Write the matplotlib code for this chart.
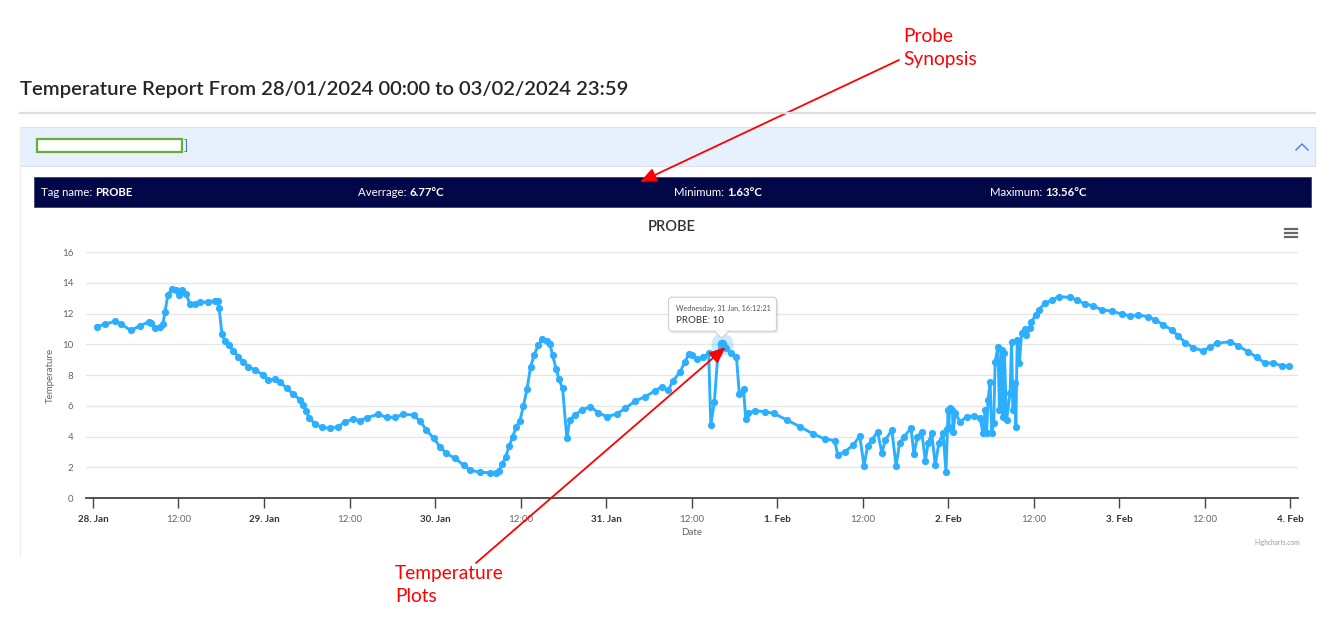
import datetime as dt
import matplotlib
matplotlib.use("Agg")
import matplotlib.pyplot as plt
import matplotlib.dates as mdates
from matplotlib.patches import Rectangle, FancyBboxPatch, Polygon, FancyArrowPatch
from matplotlib.lines import Line2D
from matplotlib.text import Annotation
from matplotlib.transforms import Affine2D

# ---------------- data ----------------
report_title = "Temperature Report From 28/01/2024 00:00 to 03/02/2024 23:59"
chart_title = "PROBE"
series_name = "PROBE"
synopsis_labels = ["Tag name: ", "Averrage: ", "Minimum: ", "Maximum: "]
synopsis_values = ["PROBE", "6.77°C", "1.63°C", "13.56°C"]
start_time = dt.datetime(2024, 1, 28, 0, 0)

# hours after 28 Jan 00:00 and probe temperature (°C)
hours = [0.5, 1.7, 3.1, 4.0, 5.3, 6.6, 7.8, 8.2, 8.7, 9.4, 9.8, 10.1, 10.5, 11.1, 11.6,
         12.1, 12.5, 13.1, 13.6, 14.3, 15.0, 16.2, 17.1, 17.5, 17.7, 18.1, 18.5, 19.1,
         19.7, 20.4, 21.1, 21.8, 22.7, 23.9, 24.5, 25.5, 26.2, 27.2, 28.1, 29.1, 29.5,
         29.9, 30.3, 31.2, 32.1, 33.3, 34.4, 35.4, 36.5, 37.5, 38.4, 40.0, 41.2, 42.4,
         43.5, 45.0, 45.9, 46.8, 47.8, 48.7, 49.6, 50.8, 52.0, 52.9, 54.3, 55.7, 56.6,
         57.0, 57.4, 57.9, 58.4, 58.9, 59.4, 59.9, 60.4, 60.9, 61.4, 61.9, 62.5, 63.0,
         63.7, 64.1, 64.5, 65.0, 65.4, 65.9, 66.5, 66.9, 67.6, 68.6, 69.8, 70.9, 72.1,
         73.5, 74.7, 76.1, 77.5, 78.9, 79.8, 80.7, 81.4, 82.4, 83.1, 83.6, 84.0, 84.7,
         85.6, 86.4, 86.7, 87.2, 87.7, 88.2, 88.9, 89.6, 90.3, 90.7, 91.3, 91.6, 91.9,
         92.9, 94.3, 95.5, 97.4, 99.2, 101.1, 102.7, 104.1, 104.5, 105.5, 106.7, 107.6,
         108.2, 108.7, 109.3, 110.1, 110.7, 111.2, 112.1, 112.7, 113.2, 113.8, 114.8,
         115.2, 115.7, 116.3, 116.8, 117.2, 117.7, 118.2, 118.7, 119.3, 119.7, 119.9,
         120.0, 120.1, 120.2, 120.6, 120.7, 121.0, 121.7, 122.6, 123.6, 124.5, 124.9,
         125.2, 125.4, 125.6, 125.9, 126.1, 126.4, 126.6, 127.0, 127.2, 127.5, 127.7,
         127.9, 128.2, 128.7, 128.9, 129.1, 129.4, 129.5, 129.7, 130.0, 130.3, 130.8,
         131.0, 131.5, 131.7, 132.3, 132.7, 133.6, 134.6, 135.5, 137.1, 138.1, 139.2,
         140.4, 141.6, 143.0, 144.4, 145.5, 146.7, 148.1, 149.1, 150.2, 151.4, 152.3,
         153.3, 154.4, 155.8, 156.8, 157.7, 159.6, 160.7, 162.1, 163.3, 164.5, 165.6,
         166.8, 167.9]
temps = [11.14, 11.3, 11.5, 11.3, 10.9, 11.2, 11.45, 11.4, 11.08, 11.1, 11.3, 12.08, 13.2,
         13.6, 13.56, 13.2, 13.56, 13.25, 12.6, 12.65, 12.73, 12.75, 12.84, 12.84, 12.34,
         10.67, 10.23, 9.95, 9.58, 9.19, 8.87, 8.54, 8.33, 8.0, 7.67, 7.72, 7.57, 7.13,
         6.76, 6.37, 6.05, 5.68, 5.22, 4.81, 4.6, 4.53, 4.64, 4.96, 5.12, 5.03, 5.22,
         5.44, 5.25, 5.25, 5.44, 5.4, 5.0, 4.42, 3.88, 3.34, 2.9, 2.58, 2.15, 1.82, 1.67,
         1.65, 1.65, 1.78, 2.19, 2.64, 3.38, 3.99, 4.64, 5.0, 5.98, 7.07, 8.5, 9.3, 9.95,
         10.32, 10.23, 10.02, 9.3, 8.37, 7.72, 7.13, 3.88, 5.07, 5.4, 5.72, 5.94, 5.55,
         5.29, 5.46, 5.83, 6.31, 6.59, 6.98, 7.24, 7.02, 7.61, 8.22, 8.87, 9.37, 9.3,
         9.02, 9.15, 9.41, 4.75, 6.26, 9.41, 10.0, 9.73, 9.41, 9.15, 6.76, 7.07, 5.12,
         5.51, 5.68, 5.61, 5.51, 5.07, 4.64, 4.16, 3.84, 3.73, 2.80, 3.01, 3.45, 4.03,
         2.1, 3.38, 3.77, 4.31, 2.95, 3.77, 4.42, 2.1, 3.6, 3.99, 4.53, 2.86, 3.99, 4.31,
         2.43, 3.56, 4.21, 2.15, 3.56, 4.21, 1.7, 4.5, 5.72, 4.6, 5.83, 5.72, 4.31, 5.5,
         4.96, 5.29, 5.33, 5.18, 4.2, 5.72, 4.2, 6.37, 7.57, 4.2, 4.86, 8.87, 9.84, 5.72,
         9.63, 5.29, 9.41, 5.07, 6.81, 10.17, 5.72, 7.46, 4.64, 10.28, 8.76, 10.71, 10.97,
         10.6, 11.04, 11.47, 11.9, 12.23, 12.66, 12.88, 13.09, 13.05, 12.88, 12.62, 12.49,
         12.23, 12.16, 11.95, 11.86, 11.9, 11.79, 11.58, 11.25, 10.93, 10.54, 10.1, 9.78,
         9.56, 9.84, 10.06, 10.17, 9.89, 9.52, 9.15, 8.76, 8.8, 8.59, 8.59]

y_ticks = [0, 2, 4, 6, 8, 10, 12, 14, 16]
x_tick_hours = [0, 12, 24, 36, 48, 60, 72, 84, 96, 108, 120, 132, 144, 156, 168]
x_tick_labels = ["28. Jan", "12:00", "29. Jan", "12:00", "30. Jan", "12:00", "31. Jan",
                 "12:00", "1. Feb", "12:00", "2. Feb", "12:00", "3. Feb", "12:00", "4. Feb"]
hover_hour = 88.2
hover_value = 10
hover_header = "Wednesday, 31 Jan, 16:12:21"

# ---------------- style ----------------
W, H = 1330, 623
FONT = ["Lato", "DejaVu Sans"]
plt.rcParams["font.family"] = FONT
LINE = "#2caffe"
NAVY = "#020747"

fig = plt.figure(figsize=(W / 100, H / 100), dpi=100)
fig.patch.set_facecolor("white")
T = Affine2D().scale(1 / W, -1 / H).translate(0, 1) + fig.transFigure  # top-down pixels

# page header
fig.text(20, 89, report_title, transform=T, fontsize=14.6, color="#262626",
         va="center", ha="left", fontweight="semibold")
fig.add_artist(Line2D([20, 1315], [113, 113], transform=T, color="#dedede", lw=1.6))

# card with collapsible header
fig.add_artist(Line2D([20, 20], [127, 556], transform=T, color="#eeeeee", lw=1))
fig.add_artist(Rectangle((20, 127), 1295, 39, transform=T, facecolor="#e7f0fd",
                         edgecolor="#d9e2ee", lw=0.8))
fig.add_artist(Rectangle((37, 139), 145, 13, transform=T, facecolor="white",
                         edgecolor="#6aab3a", lw=1.6))
fig.text(184, 146, "]", transform=T, fontsize=10, color="#3f76d6", va="center")
fig.add_artist(Line2D([1296, 1302, 1308], [150, 144, 150], transform=T,
                      color="#4b7fd8", lw=1))

# synopsis bar
fig.add_artist(Rectangle((34, 177), 1277, 30, transform=T, facecolor=NAVY,
                         edgecolor="#3c4170", lw=0.6))
for x0, lab, val in zip([41, 358, 674, 990], synopsis_labels, synopsis_values):
    t1 = fig.text(x0, 193, lab, transform=T, fontsize=8.2, color="white",
                  va="center", ha="left")
    a = Annotation(val, xy=(1, 0), xycoords=t1, va="bottom", ha="left",
                   fontsize=8.2, color="white", fontweight="bold")
    fig.add_artist(a)

# chart title and menu icon
fig.text(672, 227, chart_title, transform=T, fontsize=10.5, color="#333333",
         ha="center", va="center", fontweight="semibold")
for yy in [229, 233, 237]:
    fig.add_artist(Line2D([1285, 1297], [yy, yy], transform=T, color="#666666", lw=1.6))

# ---------------- plot ----------------
ax = fig.add_axes([86 / W, 1 - 498 / H, (1298 - 86) / W, (498 - 252) / H])
times = [start_time + dt.timedelta(hours=h) for h in hours]
ax.plot(times, temps, color=LINE, lw=2.1, marker="o", markersize=5.2,
        markeredgewidth=0, zorder=3, clip_on=False)

ax.set_ylim(0, 16)
x_left = start_time - dt.timedelta(hours=0.98)
x_right = start_time + dt.timedelta(hours=169.1)
ax.set_xlim(x_left, x_right)
ax.set_yticks(y_ticks)
ax.set_yticklabels([str(v) for v in y_ticks])
ax.set_xticks([start_time + dt.timedelta(hours=h) for h in x_tick_hours])
ax.set_xticklabels(x_tick_labels)
for lab in ax.get_xticklabels():
    if lab.get_text() == "12:00":
        lab.set_color("#666666")
    else:
        lab.set_color("#333333")
        lab.set_fontweight("bold")
ax.tick_params(axis="x", length=7, width=1, color="#444444", labelsize=7, pad=5)
ax.tick_params(axis="y", length=0, labelsize=7, labelcolor="#666666", pad=9)
ax.grid(axis="y", color="#e6e6e6", lw=1)
ax.set_axisbelow(True)
for s in ["top", "right", "left"]:
    ax.spines[s].set_visible(False)
ax.spines["bottom"].set_color("#444444")
ax.spines["bottom"].set_linewidth(1.3)
ax.set_ylabel("Temperature", fontsize=7, color="#666666", labelpad=5)
ax.set_xlabel("Date", fontsize=7, color="#666666", labelpad=3)

# hovered point + tooltip
hover_time = start_time + dt.timedelta(hours=hover_hour)
ax.plot([hover_time], [hover_value], "o", color=LINE, markersize=16, alpha=0.25,
        markeredgewidth=0, zorder=4)
ax.plot([hover_time], [hover_value], "o", color=LINE, markersize=7,
        markeredgewidth=0, zorder=5)
fig.canvas.draw()
px, py = ax.transData.transform((mdates.date2num(hover_time), hover_value))
cx, cy = px, H - py  # top-down pixel position
box_l, box_r, box_t, box_b = cx - 53, cx + 55, cy - 47, cy - 13
shadow = FancyBboxPatch((box_l + 2, box_t + 2), box_r - box_l, box_b - box_t,
                        boxstyle="round,pad=0,rounding_size=3", transform=T,
                        facecolor="#000000", alpha=0.08, edgecolor="none")
fig.add_artist(shadow)
box = FancyBboxPatch((box_l, box_t), box_r - box_l, box_b - box_t,
                     boxstyle="round,pad=0,rounding_size=3", transform=T,
                     facecolor="white", edgecolor="#cfcfcf", lw=0.8)
fig.add_artist(box)
fig.add_artist(Polygon([[cx - 7, box_b - 0.5], [cx, box_b + 7], [cx + 7, box_b - 0.5]],
                       closed=True, transform=T, facecolor="white",
                       edgecolor="none"))
fig.add_artist(Line2D([cx - 7, cx, cx + 7], [box_b, box_b + 7, box_b], transform=T,
                      color="#cfcfcf", lw=0.8))
fig.text(box_l + 7, box_t + 11, hover_header, transform=T, fontsize=5.2,
         color="#555555", va="center")
fig.text(box_l + 7, box_t + 23, f"{series_name}: {hover_value}", transform=T,
         fontsize=7, color="#333333", va="center")

fig.text(1300, 543, "Highcharts.com", transform=T, fontsize=4.8, color="#999999",
         ha="right", va="center")

# red callouts
RED_FS = 13.8
fig.text(903, 37, "Probe", transform=T, fontsize=RED_FS, color="#ff0000", va="center")
fig.text(903, 60, "Synopsis", transform=T, fontsize=RED_FS, color="#ff0000", va="center")
fig.add_artist(FancyArrowPatch((899, 60), (640, 182), transform=T,
                               arrowstyle="-|>,head_length=0.7,head_width=0.3",
                               mutation_scale=14, color="#ff0000", lw=1.3,
                               shrinkA=0, shrinkB=0))
fig.text(395, 573, "Temperature", transform=T, fontsize=RED_FS, color="#ff0000",
         va="center")
fig.text(395, 596, "Plots", transform=T, fontsize=RED_FS, color="#ff0000", va="center")
fig.add_artist(FancyArrowPatch((476, 563), (cx + 4, cy + 3), transform=T,
                               arrowstyle="-|>,head_length=0.7,head_width=0.3",
                               mutation_scale=14, color="#ff0000", lw=1.3,
                               shrinkA=0, shrinkB=0, zorder=10))

fig.savefig("out.png", dpi=100, facecolor="white")
